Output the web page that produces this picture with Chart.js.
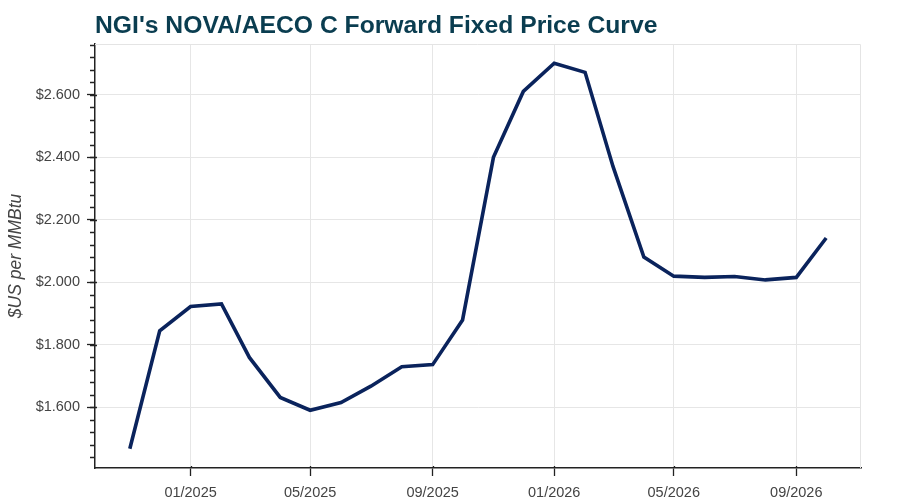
<!DOCTYPE html>
<html>
<head>
<meta charset="utf-8">
<script src="https://cdn.jsdelivr.net/npm/chart.js@4.4.1/dist/chart.umd.min.js"></script>
<style>
  html, body { margin: 0; padding: 0; background: #fff; }
  #wrap { width: 900px; height: 504px; position: relative; }
</style>
</head>
<body>
<div id="wrap"><canvas id="priceChart"></canvas></div>
<script>
const titleText = "NGI's NOVA/AECO C Forward Fixed Price Curve";
const yTitle = "$US per MMBtu";

const months = ['2024-11', '2024-12', '2025-01', '2025-02', '2025-03', '2025-04',
    '2025-05', '2025-06', '2025-07', '2025-08', '2025-09', '2025-10',
    '2025-11', '2025-12', '2026-01', '2026-02', '2026-03', '2026-04',
    '2026-05', '2026-06', '2026-07', '2026-08', '2026-09', '2026-10'];
const prices = [1.468, 1.845, 1.923, 1.931, 1.760, 1.632,
    1.591, 1.616, 1.668, 1.730, 1.737, 1.880,
    2.400, 2.611, 2.701, 2.672, 2.371, 2.081,
    2.020, 2.016, 2.019, 2.008, 2.016, 2.142];

const xTickMonths = ['2025-01', '2025-05', '2025-09', '2026-01', '2026-05', '2026-09'];
const yTickValues = [1.6, 1.8, 2.0, 2.2, 2.4, 2.6];
const yMinorStep = 0.04;

const FONT = 'Helvetica, Arial, "Liberation Sans", sans-serif';

// month string -> days since epoch
function toDay(m) {
    const [y, mo] = m.split('-').map(Number);
    return Date.UTC(y, mo - 1, 1) / 86400000;
}
function fmtDay(d) {
    const dt = new Date(d * 86400000);
    const mm = String(dt.getUTCMonth() + 1).padStart(2, '0');
    return mm + '/' + dt.getUTCFullYear();
}

const xs = months.map(toDay);
const xPad = (xs[xs.length - 1] - xs[0]) * 0.05;
const yLo = Math.min(...prices), yHi = Math.max(...prices);
const yPad = (yHi - yLo) * 0.05;

const points = xs.map((x, i) => ({ x: x, y: prices[i] }));

// outline, minor ticks, inner tick stubs and the title
const extras = {
    id: 'extras',
    beforeDatasetsDraw(chart) {
        const { ctx, chartArea: a } = chart;
        ctx.save();
        ctx.strokeStyle = '#e4e4e4';
        ctx.lineWidth = 1;
        ctx.beginPath();
        ctx.moveTo(a.left, a.top + 0.5);
        ctx.lineTo(a.right - 0.5, a.top + 0.5);
        ctx.lineTo(a.right - 0.5, a.bottom);
        ctx.stroke();
        ctx.restore();
    },
    afterDraw(chart) {
        const { ctx, chartArea: a, scales } = chart;
        const y = scales.y, x = scales.x;
        ctx.save();
        ctx.strokeStyle = '#222';
        ctx.lineWidth = 1.3;
        ctx.beginPath();
        const start = Math.ceil(y.min / yMinorStep) * yMinorStep;
        for (let v = start; v <= y.max; v += yMinorStep) {
            const py = Math.round(y.getPixelForValue(v)) + 0.5;
            ctx.moveTo(a.left - 5, py);
            ctx.lineTo(a.left, py);
        }
        yTickValues.forEach(v => {
            const py = Math.round(y.getPixelForValue(v)) + 0.5;
            ctx.moveTo(a.left, py);
            ctx.lineTo(a.left + 2, py);
        });
        xTickMonths.forEach(m => {
            const px = Math.round(x.getPixelForValue(toDay(m))) + 0.5;
            ctx.moveTo(px, a.bottom);
            ctx.lineTo(px, a.bottom - 2);
        });
        ctx.stroke();

        ctx.fillStyle = '#0a3d50';
        ctx.font = 'bold 24.7px ' + FONT;
        ctx.textBaseline = 'alphabetic';
        ctx.textAlign = 'left';
        ctx.fillText(titleText, a.left, 33);
        ctx.restore();
    }
};

const config = {
    type: 'line',
    data: {
        datasets: [{
            label: 'Fixed Price',
            data: points,
            borderColor: '#0a235c',
            borderWidth: 3.6,
            pointRadius: 0,
            tension: 0,
            fill: false
        }]
    },
    options: {
        responsive: true,
        maintainAspectRatio: false,
        animation: false,
        layout: { padding: { top: 44, right: 39, left: 0, bottom: 0 } },
        plugins: {
            legend: { display: false },
            tooltip: { enabled: false },
            title: { display: false }
        },
        scales: {
            x: {
                type: 'linear',
                min: xs[0] - xPad,
                max: xs[xs.length - 1] + xPad,
                afterBuildTicks: (scale) => {
                    scale.ticks = xTickMonths.map(m => ({ value: toDay(m) }));
                },
                afterFit: (scale) => { scale.height = 36; },
                ticks: {
                    autoSkip: false,
                    maxRotation: 0,
                    padding: 8,
                    color: '#444',
                    font: { family: FONT, size: 14.5 },
                    callback: (v) => fmtDay(v)
                },
                grid: {
                    color: '#e6e6e6',
                    lineWidth: 1,
                    tickLength: 8,
                    tickColor: '#222',
                    tickWidth: 1.3
                },
                border: { display: true, color: '#222', width: 1.5 }
            },
            y: {
                min: yLo - yPad,
                max: yHi + yPad,
                afterBuildTicks: (scale) => {
                    scale.ticks = yTickValues.map(v => ({ value: v }));
                },
                afterFit: (scale) => { scale.width = 95; },
                ticks: {
                    padding: 7,
                    color: '#444',
                    font: { family: FONT, size: 14.5 },
                    callback: (v) => '$' + Number(v).toFixed(3)
                },
                grid: {
                    color: '#e6e6e6',
                    lineWidth: 1,
                    tickLength: 8,
                    tickColor: '#222',
                    tickWidth: 1.3
                },
                border: { display: true, color: '#222', width: 1.5 },
                title: {
                    display: true,
                    text: yTitle,
                    color: '#444',
                    font: { family: FONT, size: 17.5, style: 'italic' },
                    padding: { top: 6, bottom: 0 }
                }
            }
        }
    },
    plugins: [extras]
};

new Chart(document.getElementById('priceChart').getContext('2d'), config);
</script>
</body>
</html>
